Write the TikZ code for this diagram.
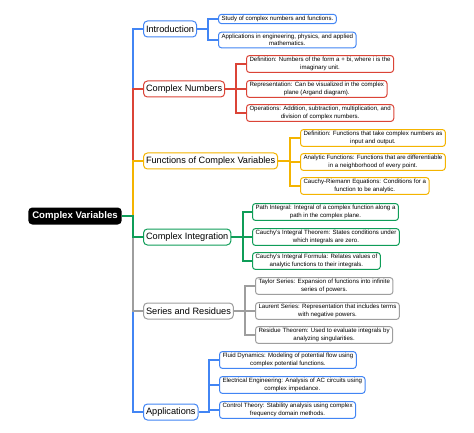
\documentclass[tikz,border=0pt]{standalone}
\usepackage{fontspec}
\setmainfont{Liberation Sans}
\usepackage{tikz}

\definecolor{cvblue}{RGB}{66,133,244}
\definecolor{cvred}{RGB}{219,68,55}
\definecolor{cvyellow}{RGB}{244,180,0}
\definecolor{cvgreen}{RGB}{15,157,88}
\definecolor{cvgray}{RGB}{158,158,158}

\begin{document}
\begin{tikzpicture}[x=1pt,y=-1pt,
    rootnode/.style={fill=black,text=white,rounded corners=4pt,font=\fontsize{9.6}{11}\selectfont\bfseries,inner xsep=4pt,minimum height=17pt},
    branch/.style={draw=#1,fill=white,line width=1pt,rounded corners=4pt,anchor=west,font=\fontsize{9.2}{11}\selectfont,inner xsep=2.5pt,minimum height=16pt},
    leaf/.style={draw=#1,fill=white,line width=1pt,rounded corners=3pt,anchor=west,align=center,font=\fontsize{6.1}{7.6}\selectfont,inner xsep=3pt,inner ysep=1.8pt},
    link/.style={draw=#1,line width=1.3pt}]
    \useasboundingbox (0,0) rectangle (474,433);

    % root and main branches
    \node[rootnode] (root) at (75,216) {Complex Variables};
    \node[branch=cvblue] (intro) at (143,29) {Introduction};
    \node[branch=cvred] (numbers) at (143,89) {Complex Numbers};
    \node[branch=cvyellow] (functions) at (143,161) {Functions of Complex Variables};
    \node[branch=cvgreen] (integration) at (143,237) {Complex Integration};
    \node[branch=cvgray] (series) at (143,311) {Series and Residues};
    \node[branch=cvblue] (applications) at (143,412) {Applications};

    % leaves
    \node[leaf=cvblue] (intro1) at (218,19) {Study of complex numbers and functions.};
    \node[leaf=cvblue] (intro2) at (218,40) {Applications in engineering, physics, and applied\\mathematics.};

    \node[leaf=cvred] (numbers1) at (246,64) {Definition: Numbers of the form a + bi, where i is the\\imaginary unit.};
    \node[leaf=cvred] (numbers2) at (246,89) {Representation: Can be visualized in the complex\\plane (Argand diagram).};
    \node[leaf=cvred] (numbers3) at (246,113) {Operations: Addition, subtraction, multiplication, and\\division of complex numbers.};

    \node[leaf=cvyellow] (functions1) at (300,138) {Definition: Functions that take complex numbers as\\input and output.};
    \node[leaf=cvyellow] (functions2) at (300,162) {Analytic Functions: Functions that are differentiable\\in a neighborhood of every point.};
    \node[leaf=cvyellow] (functions3) at (300,186) {Cauchy-Riemann Equations: Conditions for a\\function to be analytic.};

    \node[leaf=cvgreen] (integration1) at (252,212) {Path Integral: Integral of a complex function along a\\path in the complex plane.};
    \node[leaf=cvgreen] (integration2) at (252,237) {Cauchy's Integral Theorem: States conditions under\\which integrals are zero.};
    \node[leaf=cvgreen] (integration3) at (252,261) {Cauchy's Integral Formula: Relates values of\\analytic functions to their integrals.};

    \node[leaf=cvgray] (series1) at (255,286) {Taylor Series: Expansion of functions into infinite\\series of powers.};
    \node[leaf=cvgray] (series2) at (255,311) {Laurent Series: Representation that includes terms\\with negative powers.};
    \node[leaf=cvgray] (series3) at (255,335) {Residue Theorem: Used to evaluate integrals by\\analyzing singularities.};

    \node[leaf=cvblue] (applications1) at (219,360) {Fluid Dynamics: Modeling of potential flow using\\complex potential functions.};
    \node[leaf=cvblue] (applications2) at (219,385) {Electrical Engineering: Analysis of AC circuits using\\complex impedance.};
    \node[leaf=cvblue] (applications3) at (219,410) {Control Theory: Stability analysis using complex\\frequency domain methods.};

    % junction points
    \coordinate (trunk) at (133,216);
    \coordinate (jIntro) at (208,29);
    \coordinate (jNumbers) at (236,89);
    \coordinate (jFunctions) at (290,161);
    \coordinate (jIntegration) at (243,237);
    \coordinate (jSeries) at (245,311);
    \coordinate (jApplications) at (209,412);

    % connectors
    \path[link=cvblue] (root.east) -- (trunk) |- (intro.west);
    \path[link=cvred] (root.east) -- (trunk) |- (numbers.west);
    \path[link=cvyellow] (root.east) -- (trunk) |- (functions.west);
    \path[link=cvblue] (root.east) -- (trunk) |- (applications.west);
    \path[link=cvgray] (root.east) -- (trunk) |- (series.west);
    \path[link=cvgreen] (root.east) -- (trunk) |- (integration.west);

    \path[link=cvblue] (intro.east) -- (jIntro) |- (intro1.west);
    \path[link=cvblue] (jIntro) |- (intro2.west);
    \path[link=cvred] (numbers.east) -- (jNumbers) |- (numbers1.west);
    \path[link=cvred] (jNumbers) -- (numbers2.west);
    \path[link=cvred] (jNumbers) |- (numbers3.west);
    \path[link=cvyellow] (functions.east) -- (jFunctions) |- (functions1.west);
    \path[link=cvyellow] (jFunctions) |- (functions2.west);
    \path[link=cvyellow] (jFunctions) |- (functions3.west);
    \path[link=cvgreen] (integration.east) -- (jIntegration) |- (integration1.west);
    \path[link=cvgreen] (jIntegration) -- (integration2.west);
    \path[link=cvgreen] (jIntegration) |- (integration3.west);
    \path[link=cvgray] (series.east) -- (jSeries) |- (series1.west);
    \path[link=cvgray] (jSeries) -- (series2.west);
    \path[link=cvgray] (jSeries) |- (series3.west);
    \path[link=cvblue] (applications.east) -- (jApplications) |- (applications1.west);
    \path[link=cvblue] (jApplications) |- (applications2.west);
    \path[link=cvblue] (jApplications) |- (applications3.west);
\end{tikzpicture}
\end{document}
